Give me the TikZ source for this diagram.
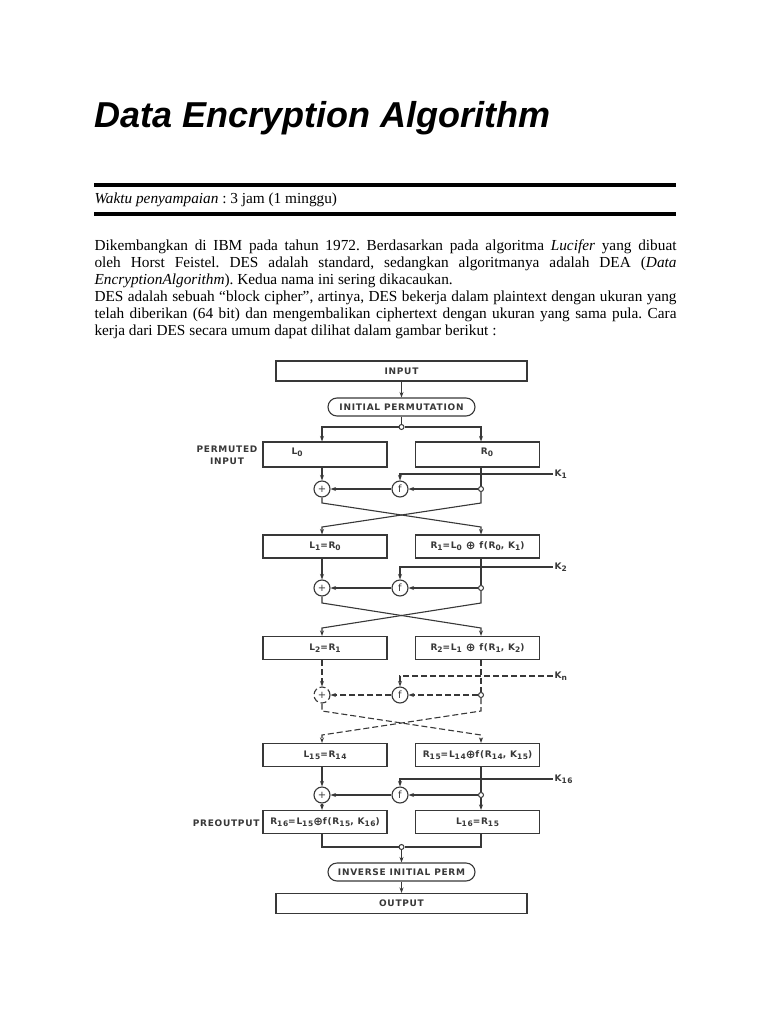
\documentclass[tikz,border=0pt]{standalone}
\usepackage{fontspec}
\setmainfont{Liberation Serif}
\newfontfamily\titlefont{Liberation Sans}
\newfontfamily\diagfont{DejaVu Sans}[LetterSpace=8]
\usetikzlibrary{arrows.meta}
\newcommand{\dsub}[1]{\raisebox{-2.2pt}{\fontsize{7.5}{8}\selectfont #1}}
\newcommand{\xorop}{\raisebox{-0.8pt}{\fontsize{11.5}{11}\selectfont ⊕}}

\begin{document}
\frenchspacing
\begin{tikzpicture}[x=1pt,y=-1pt,line width=1.1pt,color=black!78,
  >={Stealth[length=5.5pt,width=4pt]},
  para/.style={anchor=base west,inner sep=0pt,text=black,font=\fontsize{15.3}{17}\selectfont},
  dtext/.style={font=\diagfont\bfseries\fontsize{9}{10}\selectfont},
  blok/.style={draw,dtext,minimum width=124pt,minimum height=23pt,inner sep=0pt},
  wide/.style={draw,dtext,minimum width=251pt,minimum height=20pt,inner sep=0pt},
  perm/.style={draw,dtext,rounded corners=9pt,minimum width=147pt,minimum height=18pt,inner sep=0pt},
  op/.style={draw,circle,minimum size=16pt,inner sep=0pt,font=\diagfont\fontsize{10}{10}\selectfont},
  dot/.style={draw,circle,minimum size=5pt,inner sep=0pt,line width=1pt,fill=white},
  key/.style={dtext,anchor=west,inner sep=1pt},
  side/.style={dtext,align=center,inner sep=0pt,font=\diagfont\bfseries\fontsize{9}{12}\selectfont},
  dsh/.style={dash pattern=on 6pt off 3pt}]
 \useasboundingbox (0,0) rectangle (768,1024);
 \fill[white] (0,0) rectangle (768,1024);

 % heading and text
 \node[anchor=base west,inner sep=0pt,text=black,font=\titlefont\bfseries\itshape\fontsize{36}{40}\selectfont] (title) at (94,128) {Data Encryption Algorithm};
 \fill[black] (94,183) rectangle (676,187);
 \fill[black] (94,212) rectangle (676,216);
 \node[para] (waktu) at (94,204) {\textit{Waktu penyampaian} : 3 jam (1 minggu)};
 \node[para] (t1) at (94,250) {\makebox[582pt][s]{Dikembangkan di IBM pada tahun 1972. Berdasarkan pada algoritma \textit{Lucifer} yang dibuat}};
 \node[para] (t2) at (94,267) {\makebox[582pt][s]{oleh Horst Feistel. DES adalah standard, sedangkan algoritmanya adalah DEA (\textit{Data}}};
 \node[para] (t3) at (94,284) {\textit{EncryptionAlgorithm}). Kedua nama ini sering dikacaukan.};
 \node[para] (t4) at (94,301) {\makebox[582pt][s]{DES adalah sebuah “block cipher”, artinya, DES bekerja dalam plaintext dengan ukuran yang}};
 \node[para] (t5) at (94,318) {\makebox[582pt][s]{telah diberikan (64 bit) dan mengembalikan ciphertext dengan ukuran yang sama pula. Cara}};
 \node[para] (t6) at (94,335) {kerja dari DES secara umum dapat dilihat dalam gambar berikut :};

 % diagram nodes
 \node[wide] (input) at (401.5,371) {INPUT};
 \node[perm] (ip) at (401.5,407) {INITIAL PERMUTATION};
 \node[dot] (split) at (401.5,427) {};
 \node[side] (perminp) at (227,455) {PERMUTED\\INPUT};
 \node[blok,minimum height=25pt] (l0) at (325,454.5) {};
 \node[blok,minimum height=25pt] (r0) at (477.5,454.5) {};
 \node[dtext] (l0t) at (297,452) {L\dsub{0}};
 \node[dtext] (r0t) at (487,452) {R\dsub{0}};

 \node[op] (pl1) at (322,489) {+};
 \node[op] (f1) at (400,489) {f};
 \node[dot] (d1) at (481,489) {};
 \node[key] (k1) at (553,474) {K\dsub{1}};

 \node[blok] (l1) at (325,546.5) {L\dsub{1}=R\dsub{0}};
 \node[blok] (r1) at (477.5,546.5) {R\dsub{1}=L\dsub{0} \xorop{} f(R\dsub{0}, K\dsub{1})};

 \node[op] (pl2) at (322,588) {+};
 \node[op] (f2) at (400,588) {f};
 \node[dot] (d2) at (481,588) {};
 \node[key] (k2) at (553,567) {K\dsub{2}};

 \node[blok] (l2) at (325,648) {L\dsub{2}=R\dsub{1}};
 \node[blok] (r2) at (477.5,648) {R\dsub{2}=L\dsub{1} \xorop{} f(R\dsub{1}, K\dsub{2})};

 \node[op,dsh] (pln) at (322,695) {+};
 \node[op] (fn) at (400,695) {f};
 \node[dot] (dn) at (481,695) {};
 \node[key] (kn) at (553,676) {K\dsub{n}};

 \node[blok] (l15) at (325,755) {L\dsub{15}=R\dsub{14}};
 \node[blok] (r15) at (477.5,755) {R\dsub{15}=L\dsub{14}\xorop f(R\dsub{14}, K\dsub{15})};

 \node[op] (pl16) at (322,795) {+};
 \node[op] (f16) at (400,795) {f};
 \node[dot] (d16) at (481,795) {};
 \node[key] (k16) at (553,779) {K\dsub{16}};

 \node[side,anchor=east] (preout) at (260,823) {PREOUTPUT};
 \node[blok] (r16) at (325,822) {R\dsub{16}=L\dsub{15}\xorop f(R\dsub{15}, K\dsub{16})};
 \node[blok] (l16) at (477.5,822) {L\dsub{16}=R\dsub{15}};
 \node[dot] (join) at (401.5,847) {};
 \node[perm] (iip) at (401.5,872) {INVERSE INITIAL PERM};
 \node[wide] (output) at (401.5,903.5) {OUTPUT};

 % connectors
 \draw[->] (input) -- (ip);
 \draw (ip) -- (split);
 \draw[->] (split) -| (l0.north -| pl1);
 \draw[->] (split) -| (r0.north -| d1);

 \draw[->] (l0.south -| pl1) -- (pl1);
 \draw (r0.south -| d1) -- (d1);
 \draw[->] (k1.west) -| (f1);
 \draw[->] (d1) -- (f1);
 \draw[->] (f1) -- (pl1);
 \draw[->] (pl1) -- ++(0,14) -- ++(159,24) -- (r1.north -| d1);
 \draw[->] (d1) -- ++(0,14) -- ++(-159,24) -- (l1.north -| pl1);

 \draw[->] (l1.south -| pl2) -- (pl2);
 \draw (r1.south -| d2) -- (d2);
 \draw[->] (k2.west) -| (f2);
 \draw[->] (d2) -- (f2);
 \draw[->] (f2) -- (pl2);
 \draw[->] (pl2) -- ++(0,15) -- ++(159,25) -- (r2.north -| d2);
 \draw[->] (d2) -- ++(0,15) -- ++(-159,25) -- (l2.north -| pl2);

 \draw[->,dsh] (l2.south -| pln) -- (pln);
 \draw[dsh] (r2.south -| dn) -- (dn);
 \draw[->,dsh] (kn.west) -| (fn);
 \draw[->,dsh] (dn) -- (fn);
 \draw[->,dsh] (fn) -- (pln);
 \draw[->,dsh] (pln) -- ++(0,16) -- ++(159,24) -- (r15.north -| dn);
 \draw[->,dsh] (dn) -- ++(0,16) -- ++(-159,24) -- (l15.north -| pln);

 \draw[->] (l15.south -| pl16) -- (pl16);
 \draw (r15.south -| d16) -- (d16);
 \draw[->] (k16.west) -| (f16);
 \draw[->] (d16) -- (f16);
 \draw[->] (f16) -- (pl16);
 \draw[->] (pl16) -- (r16.north -| pl16);
 \draw[->] (d16) -- (l16.north -| d16);

 \draw (r16.south -| pl16) |- (join);
 \draw (l16.south -| d16) |- (join);
 \draw[->] (join) -- (iip);
 \draw[->] (iip) -- (output);
\end{tikzpicture}
\end{document}
